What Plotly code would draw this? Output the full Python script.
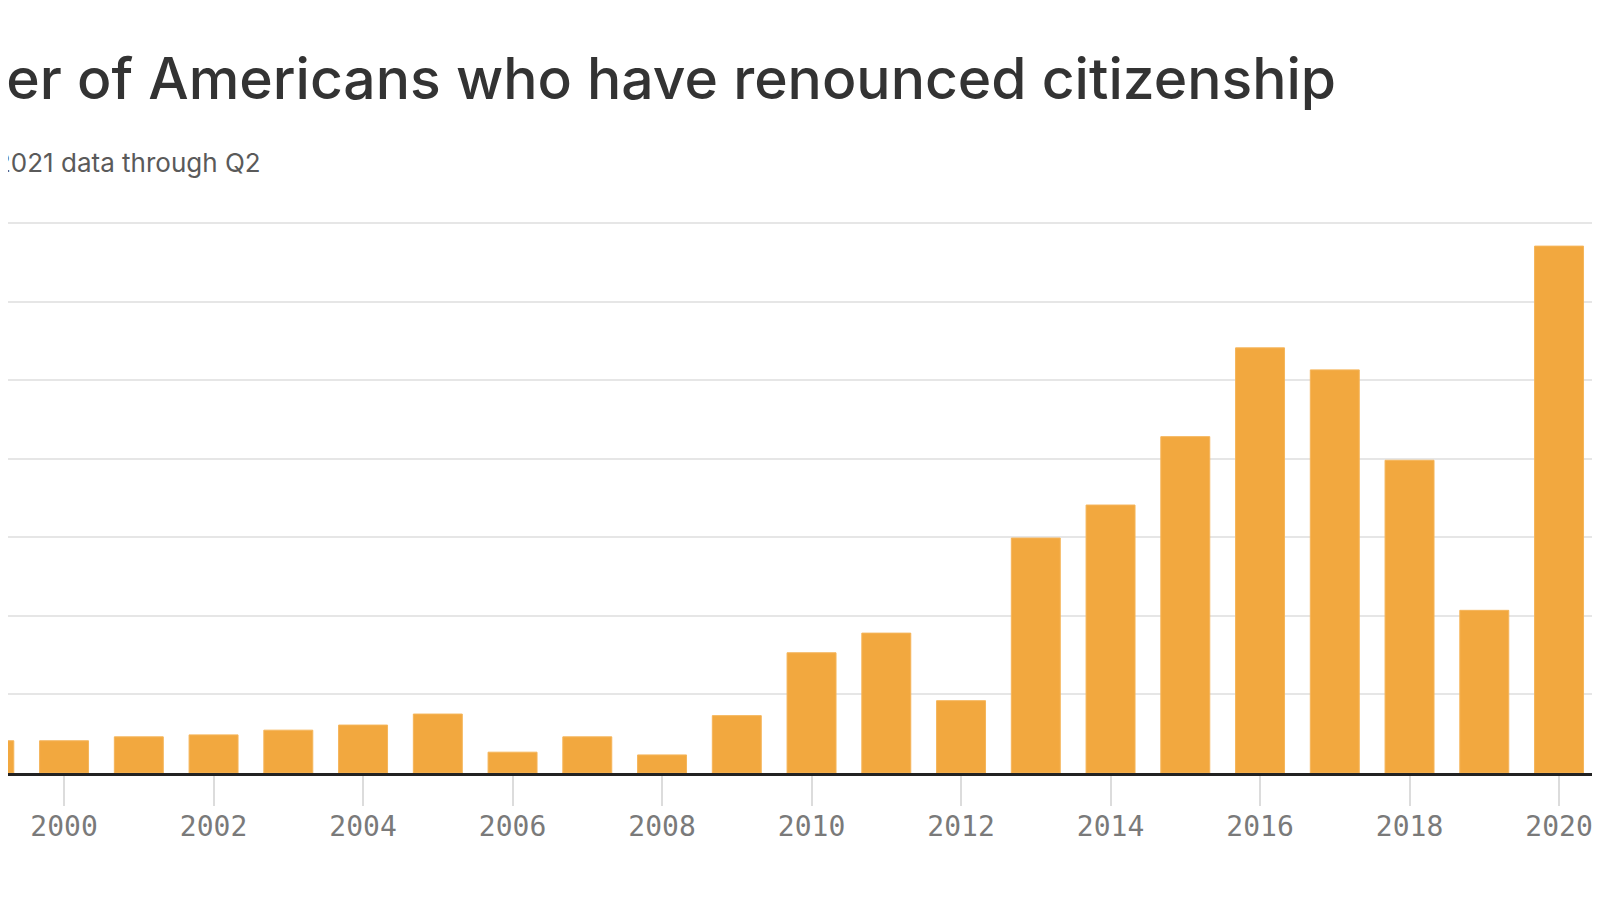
import plotly.graph_objects as go

years = list(range(1999, 2021))
renounced = [410, 410, 460, 485, 545, 610, 750, 265, 460, 230, 730,
             1530, 1780, 920, 2990, 3410, 4280, 5410, 5130, 3980, 2070, 6705]
tick_years = list(range(2000, 2021, 2))
title_text = "Number of Americans who have renounced citizenship"
subtitle_text = "2021 data through Q2"

fig = go.Figure(go.Bar(
    x=years, y=renounced, width=0.655,
    marker=dict(color="#F2A83F", line=dict(color="#F5B55A", width=1)),
))

fig.update_layout(
    width=1600, height=900,
    margin=dict(l=0, r=0, t=211, b=135, autoexpand=False),
    paper_bgcolor="white", plot_bgcolor="white",
    showlegend=False,
    xaxis=dict(
        range=[1999.25, 2020.655], tickmode="array", tickvals=tick_years,
        ticktext=[str(y) for y in tick_years],
        ticks="outside", ticklen=30, tickwidth=1.5, tickcolor="#dcdcdc",
        ticklabelstandoff=-4,
        showline=True, linecolor="#222222", linewidth=3,
        showgrid=False, zeroline=False,
        tickfont=dict(family="DejaVu Sans Mono", size=28, color="#7a7a7a"),
        automargin=False,
    ),
    yaxis=dict(
        range=[0, 7050], tickmode="array",
        tickvals=[0, 1000, 2000, 3000, 4000, 5000, 6000, 7000],
        showticklabels=False,
        showgrid=True, gridcolor="#e6e6e6", gridwidth=2,
        zeroline=False, showline=False, automargin=False,
    ),
    annotations=[
        dict(text=title_text, xref="paper", yref="paper", x=1330/1600, y=1.254,
             xanchor="right", yanchor="middle", showarrow=False,
             font=dict(family="Inter", size=57, color="#333333", weight=500)),
        dict(text=subtitle_text, xref="paper", yref="paper", x=255/1600, y=1.102,
             xanchor="right", yanchor="middle", showarrow=False,
             font=dict(family="Inter", size=26, color="#5a5a5a")),
    ],
)

fig.write_html("out.html")
